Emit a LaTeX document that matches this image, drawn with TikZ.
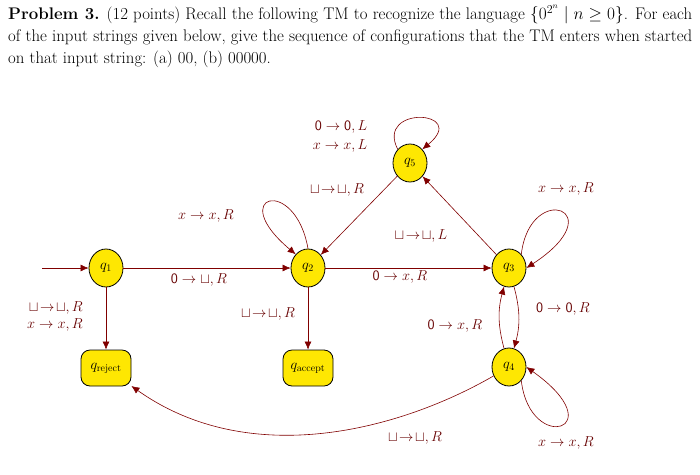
\documentclass[tikz,border=0pt]{standalone}
\usetikzlibrary{arrows.meta,shapes.geometric}
\begin{document}
\begin{tikzpicture}[x=1pt,y=-1pt,
  st/.style={draw=black,thick,fill=yellow!90!orange,ellipse,minimum width=34pt,minimum height=38pt,inner sep=0pt,font=\fontsize{14}{16}\selectfont},
  fin/.style={draw=black,thick,fill=yellow!90!orange,rounded corners=9pt,minimum width=50pt,minimum height=36pt,inner sep=1pt,font=\fontsize{14}{16}\selectfont},
  tr/.style={draw=red!50!black,line width=0.6pt,-{Latex[length=8pt,width=7pt]}},
  lb/.style={text=red!40!black,font=\fontsize{15}{20}\selectfont,inner sep=1pt}]
\useasboundingbox (0,0) rectangle (700,474);
\node[anchor=north west,text width=684pt,align=justify,inner sep=0pt,font=\fontsize{16.8}{22}\selectfont] (txt) at (8,5)
{\textbf{Problem 3.} (12 points) Recall the following TM to recognize the language $\{0^{2^n}\mid n\geq 0\}$. For each of the input strings given below, give the sequence of configurations that the TM enters when started on that input string: (a) 00, (b) 00000.};
\node[st] (q1) at (106,268) {$q_1$};
\node[st] (q2) at (308,268) {$q_2$};
\node[st] (q3) at (509,268) {$q_3$};
\node[st] (q5) at (410,163) {$q_5$};
\node[st] (q4) at (509,367) {$q_4$};
\node[fin] (qr) at (106,368) {$q_{\mathrm{reject}}$};
\node[fin] (qa) at (308,368) {$q_{\mathrm{accept}}$};
\coordinate (start) at (42,268);
\draw[tr] (start) -- (q1);
\draw[tr] (q1) -- (q2);
\draw[tr] (q2) -- (q3);
\draw[tr] (q1) -- (qr);
\draw[tr] (q2) -- (qa);
\draw[tr] (q5) -- (q2);
\draw[tr] (q3) -- (q5);
\draw[tr] (q3) to[bend left=15] (q4);
\draw[tr] (q4) to[bend left=15] (q3);
\draw[tr] (q4) .. controls (400,430) and (250,470) .. (qr);
\draw[tr] (q2.north) .. controls (295,175) and (225,195) .. (q2.north west);
\draw[tr] (q5.north west) .. controls (375,105) and (470,110) .. (q5.north east);
\draw[tr] (q3.north east) .. controls (530,180) and (615,210) .. (q3.east);
\draw[tr] (q4.south east) .. controls (530,455) and (615,430) .. (q4.east);
\node[lb,align=right] (l5) at (340,136) {$\mathsf{0}\rightarrow\mathsf{0},L$\\[-1pt]$x\rightarrow x,L$};
\node[lb] (l52) at (337,190) {$\sqcup\!\rightarrow\!\sqcup,R$};
\node[lb] (l35) at (421,236) {$\sqcup\!\rightarrow\!\sqcup,L$};
\node[lb] (l33) at (566,189) {$x\rightarrow x,R$};
\node[lb] (l22) at (206,216) {$x\rightarrow x,R$};
\node[lb] (l12) at (199,280) {$\mathsf{0}\rightarrow\sqcup,R$};
\node[lb] (l23) at (400,277) {$\mathsf{0}\rightarrow x,R$};
\node[lb,align=right] (l1r) at (55,316) {$\sqcup\!\rightarrow\!\sqcup,R$\\[-3pt]$x\rightarrow x,R$};
\node[lb] (l2a) at (268,314) {$\sqcup\!\rightarrow\!\sqcup,R$};
\node[lb] (l34) at (563,309) {$\mathsf{0}\rightarrow\mathsf{0},R$};
\node[lb] (l43) at (455,326) {$\mathsf{0}\rightarrow x,R$};
\node[lb] (l44) at (566,443) {$x\rightarrow x,R$};
\node[lb] (l4r) at (415,438) {$\sqcup\!\rightarrow\!\sqcup,R$};
\end{tikzpicture}
\end{document}
